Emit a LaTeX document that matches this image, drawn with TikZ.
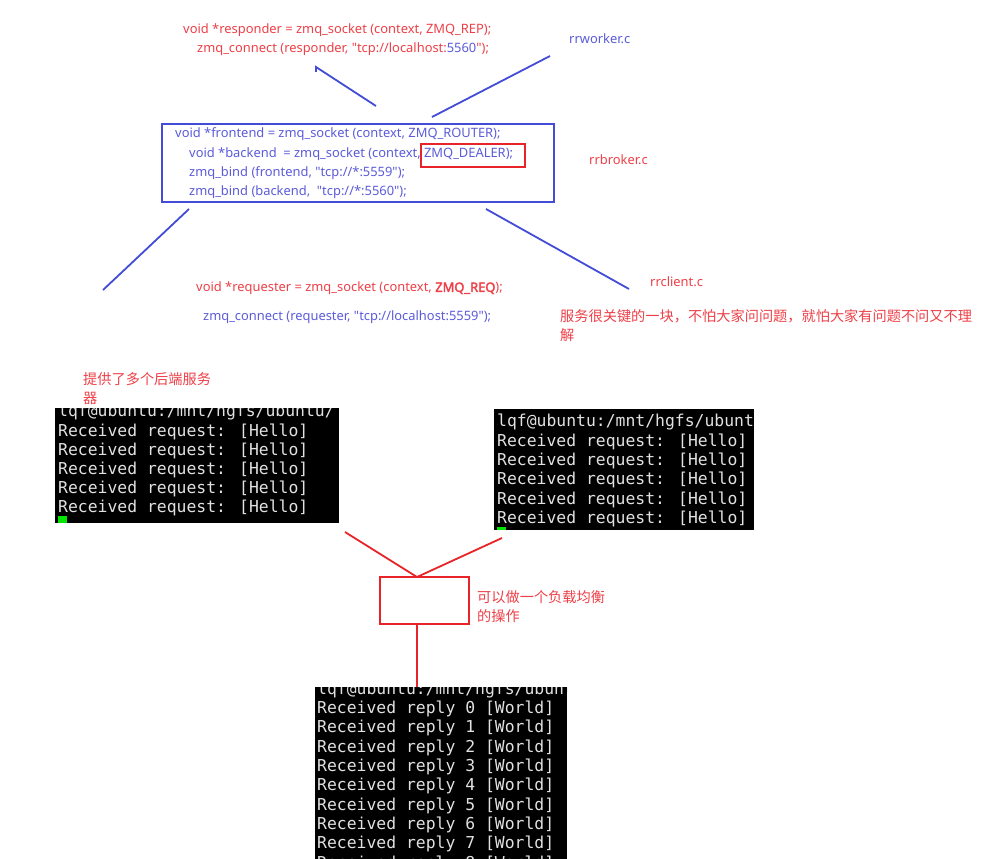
\documentclass[tikz,border=0pt]{standalone}
\usepackage{fontspec}
\setmainfont{Noto Sans}[Ligatures=TeXOff]
\newfontfamily\boldcode{Noto Sans}[Ligatures=TeXOff,FakeBold=2.5]
\newfontfamily\cjk{Noto Sans CJK SC}
\newfontfamily\mono{DejaVu Sans Mono}
\definecolor{codered}{RGB}{238,64,72}
\definecolor{codeblue}{RGB}{92,92,218}
\definecolor{lineblue}{RGB}{66,76,214}
\definecolor{linered}{RGB}{232,36,40}
\definecolor{termtext}{RGB}{225,225,225}
\definecolor{cursor}{RGB}{0,230,0}
\tikzset{
  redtxt/.style={anchor=west,inner sep=0pt,yshift=-1.5pt,text=codered,font=\fontsize{12.9}{15}\selectfont},
  bluetxt/.style={anchor=west,inner sep=0pt,yshift=-1.5pt,text=codeblue,font=\fontsize{12.9}{15}\selectfont},
  cjktxt/.style={anchor=north west,inner sep=0pt,yshift=-3pt,text=codered,font=\cjk\fontsize{14.2}{19}\selectfont,align=left},
  term/.style={fill=black,draw=none},
  termline/.style={anchor=west,inner sep=0pt,yshift=-1.5pt,text=termtext,font=\mono\fontsize{16.4}{19}\selectfont},
  bline/.style={draw=lineblue,line width=1.8pt},
  rline/.style={draw=linered,line width=1.8pt},
}
\begin{document}
\begin{tikzpicture}[x=1pt,y=-1pt]
\useasboundingbox (0,0) rectangle (1007,859);
\fill[white] (0,0) rectangle (1007,859);

% worker code
\node[redtxt] (rep1) at (183,29) {void *responder = zmq\_socket (context, ZMQ\_REP);};
\node[redtxt] (rep2) at (197,48) {zmq\_connect (responder, "tcp://localhost:\textcolor{codeblue}{5560}");};
\node[bluetxt,text=codeblue] (worker) at (569,37) {rrworker.c};

% broker box
\node[draw=lineblue,line width=1.8pt,minimum width=392pt,minimum height=78pt,anchor=north west,inner sep=0pt] (broker) at (161,123) {};
\node[bluetxt] (b1) at (175,133) {void *frontend = zmq\_socket (context, ZMQ\_ROUTER);};
\node[bluetxt] (b2) at (189,153) {void *backend\ \ = zmq\_socket (context, ZMQ\_DEALER);};
\node[bluetxt] (b3) at (189,172) {zmq\_bind (frontend, "tcp://*:5559");};
\node[bluetxt] (b4) at (189,191) {zmq\_bind (backend,\ \ "tcp://*:5560");};
\node[draw=linered,line width=1.6pt,minimum width=104pt,minimum height=23pt,anchor=north west,inner sep=0pt] (dealer) at (420,143) {};
\node[redtxt] (brokerlbl) at (589,158) {rrbroker.c};

% connectors around broker
\coordinate (wa) at (376,106);
\coordinate (wb) at (316,67);
\coordinate (wc) at (432,117);
\coordinate (wd) at (550,56);
\draw[bline] (wa) -- (wb) -- ++(0,5);
\draw[bline] (wc) -- (wd);
\coordinate (ca) at (189,209);
\coordinate (cb) at (103,290);
\coordinate (cc) at (486,209);
\coordinate (cd) at (629,289);
\draw[bline] (ca) -- (cb);
\draw[bline] (cc) -- (cd);

% client code
\node[redtxt] (req1) at (196,287) {void *requester = zmq\_socket (context, {\boldcode ZMQ\_REQ});};
\node[bluetxt] (req2) at (203,316) {zmq\_connect (requester, "tcp://localhost:5559");};
\node[redtxt] (client) at (650,280) {rrclient.c};
\node[cjktxt,text width=420pt] (note) at (560,306) {服务很关键的一块，不怕大家问问题，就怕大家有问题不问又不理\\解};

\node[cjktxt,text width=140pt] (multi) at (83,369) {提供了多个后端服务\\器};

% left terminal
\fill[term] (55,408) rectangle (339,523);
\begin{scope}
\clip (55,408) rectangle (339,523);
\node[termline] (l0) at (58,410) {lqf@ubuntu:/mnt/hgfs/ubuntu/};
\node[termline] (l1) at (58,430) {Received request: [Hello]};
\node[termline] (l2) at (58,449) {Received request: [Hello]};
\node[termline] (l3) at (58,468) {Received request: [Hello]};
\node[termline] (l4) at (58,487) {Received request: [Hello]};
\node[termline] (l5) at (58,506) {Received request: [Hello]};
\fill[cursor] (58,516) rectangle (67,523);
\end{scope}
\node[inner sep=0pt,minimum width=284pt,minimum height=115pt,anchor=north west] (lterm) at (55,408) {};

% right terminal
\fill[term] (494,409) rectangle (754,530);
\begin{scope}
\clip (494,409) rectangle (754,530);
\node[termline] (r0) at (497,420) {lqf@ubuntu:/mnt/hgfs/ubuntu/};
\node[termline] (r1) at (497,440) {Received request: [Hello]};
\node[termline] (r2) at (497,459) {Received request: [Hello]};
\node[termline] (r3) at (497,478) {Received request: [Hello]};
\node[termline] (r4) at (497,498) {Received request: [Hello]};
\node[termline] (r5) at (497,517) {Received request: [Hello]};
\fill[cursor] (497,527) rectangle (506,530);
\end{scope}
\node[inner sep=0pt,minimum width=260pt,minimum height=121pt,anchor=north west] (rterm) at (494,409) {};

% load balancer
\node[draw=linered,line width=1.8pt,minimum width=89pt,minimum height=47pt,anchor=north west,inner sep=0pt] (lb) at (379,576) {};
\coordinate (la) at (345,532);
\coordinate (lt) at (417,577);
\coordinate (ra) at (502,538);
\draw[rline] (la) -- (lt);
\draw[rline] (ra) -- (lt);
\node[cjktxt] (lbtxt) at (477,587) {可以做一个负载均衡\\的操作};

% bottom terminal
\fill[term] (315,687) rectangle (567,859);
\begin{scope}
\clip (315,687) rectangle (567,859);
\node[termline] (c0) at (317,688) {lqf@ubuntu:/mnt/hgfs/ubuntu/};
\node[termline] (c1) at (317,707) {Received reply 0 [World]};
\node[termline] (c2) at (317,726) {Received reply 1 [World]};
\node[termline] (c3) at (317,746) {Received reply 2 [World]};
\node[termline] (c4) at (317,765) {Received reply 3 [World]};
\node[termline] (c5) at (317,784) {Received reply 4 [World]};
\node[termline] (c6) at (317,804) {Received reply 5 [World]};
\node[termline] (c7) at (317,823) {Received reply 6 [World]};
\node[termline] (c8) at (317,842) {Received reply 7 [World]};
\node[termline] (c9) at (317,862) {Received reply 8 [World]};
\end{scope}
\node[inner sep=0pt,minimum width=252pt,minimum height=172pt,anchor=north west] (bterm) at (315,687) {};
\draw[rline] (lb.south -| lt) -- (bterm.north -| lt);
\end{tikzpicture}
\end{document}
